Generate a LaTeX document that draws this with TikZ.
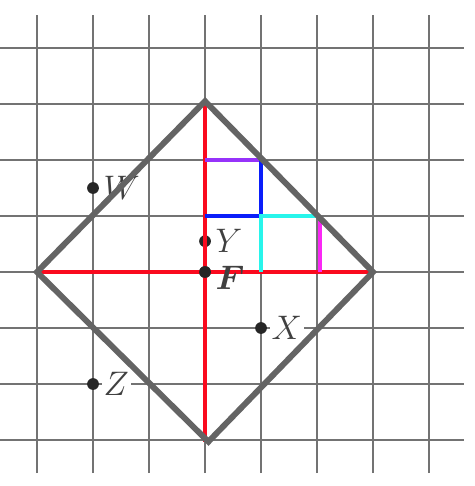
\documentclass[tikz,border=0pt]{standalone}
\usepackage{tikz}
\usepackage{bm}
\usetikzlibrary{positioning}
\definecolor{gridgray}{RGB}{115,115,115}
\definecolor{kitegray}{RGB}{100,100,100}
\definecolor{axred}{RGB}{250,10,30}
\definecolor{sqpurple}{RGB}{150,50,250}
\definecolor{sqblue}{RGB}{10,30,250}
\definecolor{sqcyan}{RGB}{40,245,235}
\definecolor{sqmagenta}{RGB}{250,40,245}
\tikzstyle{gridline}=[gridgray, line width=1.1pt]
\tikzstyle{dot}=[circle, fill=black!85, inner sep=0pt, minimum size=0.21cm]
\tikzstyle{lbl}=[fill=white, inner sep=1pt, text=black!75, font=\fontsize{17}{20}\selectfont]

\begin{document}
\begin{tikzpicture}
  \useasboundingbox (-3.661,-3.821) rectangle (4.804,4.857);
  % squared paper
  \foreach \i in {-3,...,4} {
    \draw[gridline] (-3.66,\i) -- (4.625,\i);
    \draw[gridline] (\i,-3.589) -- (\i,4.589);
  }
  % corners of the square
  \coordinate (top) at (0,3.05);
  \coordinate (bot) at (0.06,-3.03);
  \coordinate (lft) at (-3,0);
  \coordinate (rgt) at (3,0);
  % points
  \node[dot] (W) at (-2,1.5) {};
  \node[dot] (Y) at (0,0.55) {};
  \node[dot] (F) at (0,0) {};
  \node[dot] (X) at (1,-1) {};
  \node[dot] (Z) at (-2,-2) {};
  % diagonals
  \draw[axred, line width=2.2pt] (0,3) -- (top|-bot);
  \draw[axred, line width=2.2pt] (lft) -- (rgt);
  % little squares
  \draw[sqpurple, line width=2.2pt] (0,2) -- (1,2);
  \draw[sqblue, line width=2.2pt] (1,2) -- (1,1) -- (0,1);
  \draw[sqcyan, line width=2.2pt] (2,1) -- (1,1) -- (1,0);
  \draw[sqmagenta, line width=2.2pt] (2.05,0.92) -- (2.05,0);
  % labels
  \node[lbl, right=1pt of W] (Wl) {$W$};
  \node[lbl, right=1pt of Y, fill=none] (Yl) {$Y$};
  \node[lbl, right=1pt of F, yshift=-3pt, fill=none] (Fl) {$\bm{F}$};
  \node[lbl, right=1pt of X] (Xl) {$X$};
  \node[lbl, right=1pt of Z] (Zl) {$Z$};
  % the square
  \draw[kitegray, line width=3pt, line join=miter] (top) -- (rgt) -- (bot) -- (lft) -- cycle;
  \node[dot] at (F) {};
\end{tikzpicture}
\end{document}
